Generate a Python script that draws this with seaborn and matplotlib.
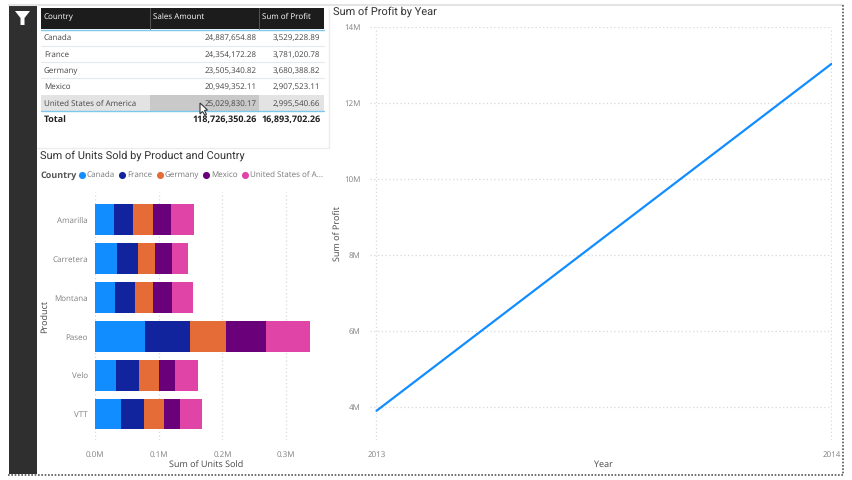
import matplotlib
matplotlib.use("Agg")
import matplotlib.pyplot as plt
from matplotlib.patches import Rectangle, Polygon
from matplotlib.ticker import FuncFormatter
import pandas as pd
import seaborn as sns

countries = ["Canada", "France", "Germany", "Mexico", "United States of America"]
products = ["Amarilla", "Carretera", "Montana", "Paseo", "Velo", "VTT"]
colors = ["#118DFF", "#12239E", "#E66C37", "#6B007B", "#E044A7"]
units_canada = [0.0293, 0.0346, 0.0314, 0.0785, 0.0330, 0.0414]
units_france = [0.0309, 0.0335, 0.0314, 0.0707, 0.0356, 0.0351]
units_germany = [0.0309, 0.0257, 0.0277, 0.0560, 0.0314, 0.0314]
units_mexico = [0.0283, 0.0272, 0.0309, 0.0628, 0.0257, 0.0262]
units_usa = [0.0356, 0.0251, 0.0319, 0.0691, 0.0361, 0.0346]
years = [2013, 2014]
profit = [3.9, 13.03]
table_header = ["Country", "Sales Amount", "Sum of Profit"]
sales = ["24,887,654.88", "24,354,172.28", "23,505,340.82", "20,949,352.11", "25,029,830.17"]
profits = ["3,529,228.89", "3,781,020.78", "3,680,388.82", "2,907,523.11", "2,995,540.66"]
totals = ["Total", "118,726,350.26", "16,893,702.26"]

W, H = 853, 480
FONT = "Open Sans"
TITLE = "Roboto"
GRID = "#d9d9d9"
TICK = "#808080"
sns.set_theme(style="white")
plt.rcParams["font.family"] = [FONT, "DejaVu Sans"]
plt.rcParams["text.hinting"] = "no_hinting"
plt.rcParams["text.hinting_factor"] = 1

fig = plt.figure(figsize=(W / 100, H / 100), dpi=100, facecolor="white")


def px_axes(l, t, r, b, **kw):
    return fig.add_axes([l / W, 1 - b / H, (r - l) / W, (b - t) / H], **kw)


bg = px_axes(0, 0, W, H)
bg.set_xlim(0, W)
bg.set_ylim(H, 0)
bg.axis("off")

# frame and filter pane
bg.plot([9, 843], [5, 5], color="#e4e4e4", lw=1.5)
bg.plot([8, 843, 843], [474.5, 474.5, 5], color="#555555", lw=1.2, ls=(0, (1, 1)))
bg.add_patch(Rectangle((9, 5), 28, 469, color="#2f2f2f", lw=0))
bg.add_patch(Polygon([[15, 11], [30, 11], [24.5, 18], [24.5, 25], [20.5, 25], [20.5, 18]],
                     color="white", lw=0))

# table
bg.plot([329, 329], [8, 148], color="#ececec", lw=1)
bg.plot([37, 329], [148, 148], color="#ececec", lw=1)
bg.add_patch(Rectangle((41, 8), 283, 21, color="#1c1c1c", lw=0))
bg.plot([150.5, 150.5], [8, 29], color="#555555", lw=0.7)
bg.plot([259.5, 259.5], [8, 29], color="#555555", lw=0.7)
bg.add_patch(Rectangle((41, 95), 283, 16, color="#e3e3e3", lw=0))
bg.add_patch(Rectangle((150, 95), 109, 16, color="#c9c9c9", lw=0))
bg.plot([41, 324], [29.5, 29.5], color="#7ec8ee", lw=1)
for y in [46, 62, 78]:
    bg.plot([41, 324], [y, y], color="#dfeaf2", lw=0.8)
bg.plot([41, 324], [111, 111], color="#7ec8ee", lw=1)
TS = 5.95
for x, s in zip([44, 153.5, 262.5], table_header):
    bg.text(x, 17, s, color="white", fontsize=TS, va="center")
for y, c, a, p in zip([38, 55, 71, 87, 103.5], countries, sales, profits):
    bg.text(44, y, c, color="#444444", fontsize=TS, va="center")
    bg.text(256.5, y, a, color="#444444", fontsize=TS, va="center", ha="right")
    bg.text(320.5, y, p, color="#444444", fontsize=TS, va="center", ha="right")
bg.text(44, 119.5, totals[0], color="#222222", fontsize=6.3, va="center", weight="bold")
bg.text(256.5, 119.5, totals[1], color="#222222", fontsize=6.3, va="center", ha="right", weight="bold")
bg.text(320.5, 119.5, totals[2], color="#222222", fontsize=6.3, va="center", ha="right", weight="bold")
bg.add_patch(Polygon([[200, 103], [200, 114], [202.5, 111.5], [205, 115.5], [206.5, 114.5],
                      [204.5, 110.5], [207.5, 110]], facecolor="white", edgecolor="#333333", lw=0.8, zorder=5))

# titles and legend
bg.text(40, 156, "Sum of Units Sold by Product and Country", color="#333333", fontsize=7.85,
        va="center", family=TITLE)
bg.text(333, 12, "Sum of Profit by Year", color="#333333", fontsize=7.75, va="center", family=TITLE)
bg.text(40, 175, "Country", color="#555555", fontsize=6.2, va="center", weight="bold")
legend_x = [82, 122, 160, 206, 245]
legend_labels = countries[:4] + ["United States of A..."]
for x, c, lab in zip(legend_x, colors, legend_labels):
    bg.scatter([x], [175], s=26, color=c, linewidths=0)
    bg.text(x + 5, 175, lab, color="#777777", fontsize=5.95, va="center")

# stacked bars
units = [units_canada, units_france, units_germany, units_mexico, units_usa]
df = pd.DataFrame({
    "Product": [p for _ in countries for p in products],
    "Country": [c for c in countries for _ in products],
    "Units": [v for row in units for v in row],
})
df["Product"] = pd.Categorical(df["Product"], categories=products)
ax = px_axes(95, 192, 325, 440)
sns.histplot(data=df, y="Product", weights="Units", hue="Country", hue_order=countries[::-1],
             multiple="stack", palette=colors[::-1], shrink=0.78, alpha=1, linewidth=0,
             legend=False, ax=ax, zorder=3)
ax.set_xlim(0, 230 / 637)
ax.set_ylim(5.66, -0.71)
ax.set_xticks([0, 0.1, 0.2, 0.3])
ax.xaxis.set_major_formatter(FuncFormatter(lambda v, _: f"{v:.1f}M"))
ax.set_xlabel("Sum of Units Sold", fontsize=6.5, color="#444444")
ax.xaxis.set_label_coords((206 - 95) / 230, -(465 - 440) / 248, transform=ax.transAxes)
ax.xaxis.label.set_va("center")
ax.set_ylabel("Product", fontsize=6.5, color="#444444")
ax.yaxis.set_label_coords((45 - 95) / 230, (440 - 316) / 248, transform=ax.transAxes)
ax.yaxis.label.set_va("center")
ax.tick_params(axis="x", labelsize=5.7, colors=TICK, length=0, pad=8)
ax.tick_params(axis="y", labelsize=5.7, colors=TICK, length=0, pad=5)
ax.grid(axis="x", color=GRID, ls=(0, (1, 2)), lw=0.9)
ax.grid(axis="y", visible=False)
ax.set_axisbelow(True)
sns.despine(ax=ax, left=True, bottom=True)
ax.patch.set_alpha(0)

# line chart
line_df = pd.DataFrame({"Year": years, "Profit": profit})
lx = px_axes(370, 27, 832, 440)
sns.lineplot(data=line_df, x="Year", y="Profit", color="#118DFF", lw=1.6, ax=lx)
lx.set_xlim(2013 - 6.5 / 455, 2014 + 0.5 / 455)
lx.set_ylim(4 - 33 / 38, 14)
lx.set_xticks(years)
lx.set_xticklabels([str(y) for y in years])
lx.set_yticks([4, 6, 8, 10, 12, 14])
lx.yaxis.set_major_formatter(FuncFormatter(lambda v, _: f"{v:.0f}M"))
lx.set_xlabel("Year", fontsize=6.5, color="#444444")
lx.xaxis.set_label_coords((603 - 370) / 462, -(465 - 440) / 413, transform=lx.transAxes)
lx.xaxis.label.set_va("center")
lx.set_ylabel("Sum of Profit", fontsize=6.5, color="#444444")
lx.yaxis.set_label_coords((338 - 370) / 462, (440 - 234) / 413, transform=lx.transAxes)
lx.yaxis.label.set_va("center")
lx.tick_params(axis="x", labelsize=5.7, colors=TICK, length=0, pad=8)
lx.tick_params(axis="y", labelsize=5.7, colors=TICK, length=0, pad=7)
lx.grid(True, color=GRID, ls=(0, (1, 2)), lw=0.9)
lx.set_axisbelow(True)
sns.despine(ax=lx, left=True, bottom=True)
lx.patch.set_alpha(0)

fig.savefig("out.png", dpi=100, facecolor="white")
